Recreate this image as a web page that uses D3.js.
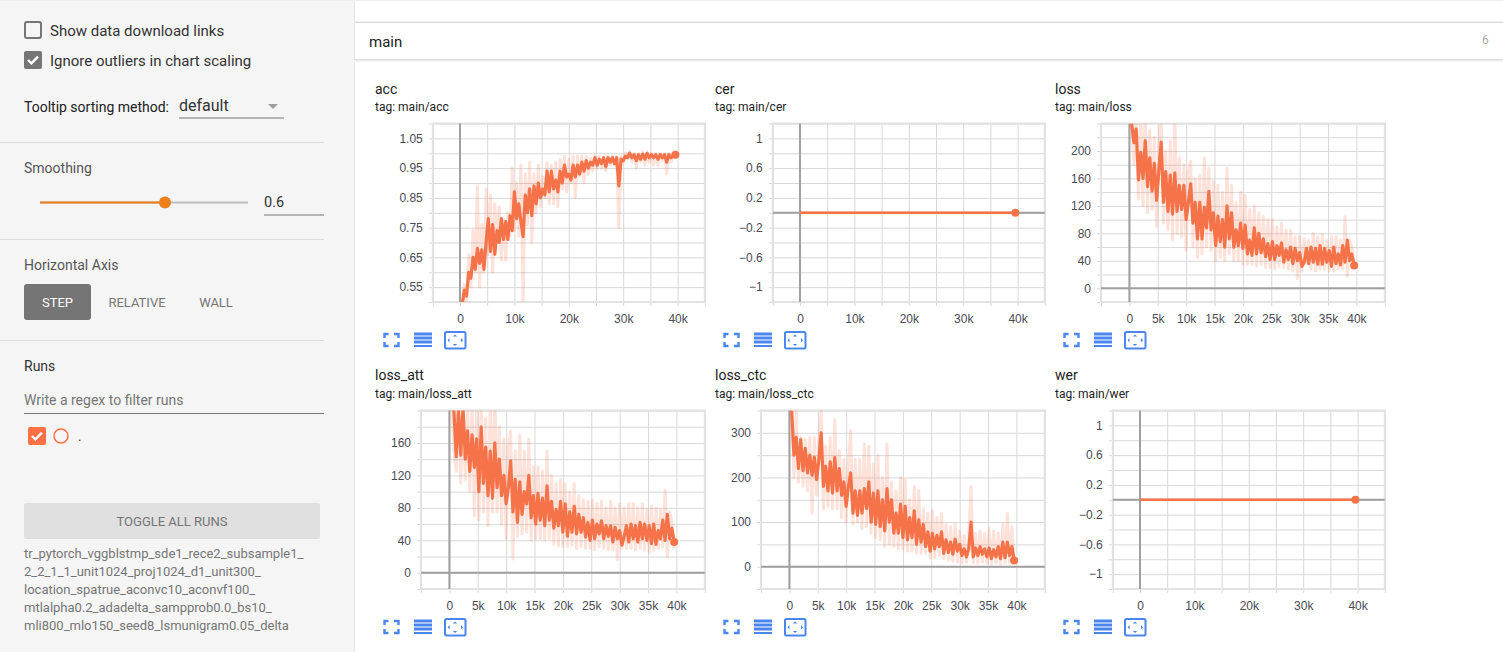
<!DOCTYPE html>
<html>
<head>
<meta charset="utf-8">
<script src="https://d3js.org/d3.v7.min.js"></script>
<style>
  html, body { margin: 0; padding: 0; background: #fff; overflow: hidden; }
  svg { display: block; font-family: Roboto, sans-serif; }
  .grid line { stroke: #d8d8d8; stroke-width: 1; }
  .grid .domain { display: none; }
  .axis text { font-family: "Liberation Sans", Arial, sans-serif; font-size: 12px; fill: #4a4a55; }
  .axis line { stroke: #d8d8d8; stroke-width: 1; }
  .axis .domain { display: none; }
</style>
</head>
<body>
<div id="board"></div>
<script>

// steps shared by the noisy scalars
var steps = [400,800,1200,1600,2000,2400,2800,3200,3600,4000,
  4400,4800,5200,5600,6000,6400,6800,7200,7600,8000,
  8400,8800,9200,9600,10000,10400,10800,11200,11600,12000,
  12400,12800,13200,13600,14000,14400,14800,15200,15600,16000,
  16400,16800,17200,17600,18000,18400,18800,19200,19600,20000,
  20400,20800,21200,21600,22000,22400,22800,23200,23600,24000,
  24400,24800,25200,25600,26000,26400,26800,27200,27600,28000,
  28400,28800,29200,29600,30000,30400,30800,31200,31600,32000,
  32400,32800,33200,33600,34000,34400,34800,35200,35600,36000,
  36400,36800,37200,37600,38000,38400,38800,39200,39600];

var accSmooth = [.49,.54,.52,.60,.58,.65,.61,.68,.63,.675,
  .61,.70,.78,.67,.76,.66,.74,.70,.78,.71,
  .77,.71,.79,.74,.87,.78,.83,.77,.72,.86,
  .80,.88,.79,.89,.83,.90,.85,.88,.86,.94,
  .87,.94,.88,.91,.87,.94,.90,.96,.92,.93,
  .91,.96,.92,.96,.93,.97,.94,.975,.95,.97,
  .96,.985,.96,.98,.965,.985,.955,.985,.97,.985,
  .965,.985,.89,.98,.975,.99,.985,1.0,.985,.995,
  .975,.995,.98,.997,.98,1.0,.985,.995,.985,.995,
  .98,.995,.985,.995,.97,.995,.985,.99,.995];
var accRaw = [.49,.56,.50,.66,.55,.74,.60,.89,.55,.76,
  .60,.88,.66,.86,.60,.83,.70,.82,.64,.78,
  .64,.80,.72,.95,.74,.90,.72,.96,.50,.93,
  .76,.97,.70,.93,.80,.96,.82,.92,.85,.97,
  .83,.96,.83,.97,.82,.98,.88,.99,.87,.98,
  .90,.99,.85,.99,.92,.99,.90,.99,.93,.985,
  .94,.99,.95,.99,.95,.985,.94,.99,.96,.99,
  .96,.99,.75,.99,.97,1.0,.98,1.005,.97,1.0,
  .95,1.0,.97,1.005,.96,1.0,.97,1.0,.96,1.0,
  .96,1.0,.975,1.0,.93,1.0,.97,.99,.995];

var lossSmooth = [240,212,232,158,198,160,215,148,190,142,
  182,128,172,213,125,170,112,165,108,168,
  112,150,115,150,100,125,152,95,125,72,
  125,72,118,88,141,85,110,62,105,68,
  100,60,120,72,110,60,85,62,95,58,
  92,50,70,48,88,50,80,52,72,46,
  65,42,68,42,62,48,66,38,56,42,
  60,36,58,40,52,32,38,58,36,60,
  38,58,35,62,35,58,38,55,32,60,
  36,50,34,62,38,70,40,50,33];
var lossRaw = [245,180,260,130,250,120,270,110,230,115,
  220,90,210,250,95,200,85,215,70,260,
  80,190,75,180,55,170,185,60,160,45,
  165,50,190,60,175,55,155,40,150,45,
  140,40,175,50,150,40,125,40,140,35,
  135,35,115,35,120,32,110,35,105,30,
  100,30,100,28,90,32,95,30,85,28,
  85,25,75,14,75,25,72,35,70,28,
  80,25,75,28,78,28,70,25,75,25,
  75,28,70,28,105,18,70,60,28];

var lossAttSmooth = [205,200,143,200,145,205,140,175,125,170,
  130,165,100,180,110,155,95,150,92,160,
  105,140,95,120,85,105,138,75,115,62,
  112,72,100,85,120,68,95,60,98,65,
  92,58,107,65,88,55,78,58,88,50,
  85,45,75,50,82,48,72,50,68,44,
  62,40,65,42,60,48,64,42,58,45,
  58,38,56,42,52,34,45,58,38,60,
  42,58,38,62,42,60,40,58,36,60,
  35,52,42,65,40,72,42,55,38];
var lossAttRaw = [210,150,125,215,110,215,115,205,100,215,
  70,205,65,215,75,190,58,210,75,230,
  75,180,60,165,42,155,175,17,150,45,
  170,48,150,50,165,40,130,42,130,42,
  125,40,150,42,120,35,110,33,115,32,
  110,32,100,34,110,30,95,32,90,30,
  88,30,90,28,85,32,88,30,80,28,
  88,28,80,16,85,30,80,30,85,30,
  85,28,80,30,85,28,78,25,82,28,
  80,30,78,32,102,20,75,62,30];

var lossCtcSmooth = [350,250,290,220,285,215,265,210,250,205,
  245,195,240,300,180,225,170,235,165,245,
  170,220,160,190,135,180,210,120,170,115,
  170,120,175,130,190,100,165,95,170,90,
  150,80,175,100,150,75,120,75,140,65,
  135,60,110,65,125,50,105,55,95,45,
  78,35,75,40,70,45,78,30,60,32,
  55,28,62,35,50,25,40,22,40,100,
  22,42,25,45,28,40,22,42,18,38,
  22,45,18,55,20,55,25,45,14];
var lossCtcRaw = [355,200,350,190,290,180,285,170,290,120,
  290,160,280,355,130,270,135,290,130,330,
  130,260,110,240,100,230,305,95,240,100,
  240,85,275,90,270,75,230,65,250,60,
  200,45,275,50,190,45,170,40,200,40,
  195,35,150,35,180,30,170,30,130,30,
  120,20,125,20,110,25,120,18,95,15,
  90,12,95,10,80,8,70,10,70,180,
  8,75,8,80,10,75,8,85,6,80,
  8,75,6,95,8,120,10,90,10];

// cer and wer stay flat at zero
var flatSteps = [0, 39600];
var cerValues = [0, 0];
var werValues = [0, 0];

// tick lists
var gridSteps = [-5000,0,5000,10000,15000,20000,25000,30000,35000,40000,45000];
var labelSteps10k = [0,10000,20000,30000,40000];
var labelSteps5k = [0,5000,10000,15000,20000,25000,30000,35000,40000];
var accGrid = [.5,.55,.6,.65,.7,.75,.8,.85,.9,.95,1,1.05,1.1];
var accLabels = [.55,.65,.75,.85,.95,1.05];
var flatGrid = [-1.2,-1,-.8,-.6,-.4,-.2,0,.2,.4,.6,.8,1,1.2];
var flatLabels = [-1,-.6,-.2,.2,.6,1];
var lossGrid = [-20,0,20,40,60,80,100,120,140,160,180,200,220,240];
var lossLabels = [0,40,80,120,160,200];
var lossAttGrid = [-20,0,20,40,60,80,100,120,140,160,180,200];
var lossAttLabels = [0,40,80,120,160];
var lossCtcGrid = [-50,0,50,100,150,200,250,300,350];
var lossCtcLabels = [0,100,200,300];

var runLines = ["tr_pytorch_vggblstmp_sde1_rece2_subsample1_",
  "2_2_1_1_unit1024_proj1024_d1_unit300_",
  "location_spatrue_aconvc10_aconvf100_",
  "mtlalpha0.2_adadelta_sampprob0.0_bs10_",
  "mli800_mlo150_seed8_lsmunigram0.05_delta"];

var orange = "#ff7043";
var lineColor = "#f6734a";
var blue = "#4a86ee";

var svg = d3.select("#board").append("svg")
  .attr("width", 1503)
  .attr("height", 652);

svg.append("rect").attr("width", 1503).attr("height", 652).attr("fill", "#fff");

// text helper
function label(sel, x, y, s, size, color, anchor) {
  return sel.append("text")
    .attr("x", x).attr("y", y)
    .attr("font-size", size)
    .attr("fill", color)
    .attr("text-anchor", anchor || "start")
    .text(s);
}
function hline(sel, x1, x2, y, color, w) {
  return sel.append("line")
    .attr("x1", x1).attr("x2", x2).attr("y1", y).attr("y2", y)
    .attr("stroke", color).attr("stroke-width", w || 1);
}

// ---- sidebar ----
var side = svg.append("g");
side.append("rect").attr("width", 354).attr("height", 652).attr("fill", "#f5f5f5");
side.append("rect").attr("x", 354).attr("width", 1).attr("height", 652).attr("fill", "#e4e4e4");
hline(side, 0, 1503, 0.5, "#eeeeee");

var checkPath = "M-5,0 L-1.6,3.4 L5,-3.4";

side.append("rect").attr("x", 25).attr("y", 22).attr("width", 16).attr("height", 16).attr("rx", 2)
  .attr("fill", "none").attr("stroke", "#757575").attr("stroke-width", 2);
label(side, 50, 36, "Show data download links", 15, "#333");

side.append("rect").attr("x", 24).attr("y", 51).attr("width", 18).attr("height", 18).attr("rx", 2)
  .attr("fill", "#757575");
side.append("path").attr("d", checkPath).attr("transform", "translate(33,60)")
  .attr("fill", "none").attr("stroke", "#fff").attr("stroke-width", 2.4);
label(side, 50, 66, "Ignore outliers in chart scaling", 15, "#333");

label(side, 24, 112, "Tooltip sorting method:", 14, "#212121");
label(side, 179, 111, "default", 16, "#333");
hline(side, 179, 284, 118, "#757575");
side.append("path").attr("d", "M268,104 L278,104 L273,109 Z").attr("fill", "#9e9e9e");

hline(side, 0, 324, 142.5, "#dcdcdc");
label(side, 24, 173, "Smoothing", 14, "#555");
hline(side, 40, 248, 202.5, "#bdbdbd", 2);
hline(side, 40, 165, 202.5, "#ef7f1a", 2);
side.append("circle").attr("cx", 165).attr("cy", 202.5).attr("r", 6).attr("fill", "#ef7f1a");
label(side, 264, 207, "0.6", 14.5, "#333");
hline(side, 264, 324, 215, "#757575");

hline(side, 0, 324, 239.5, "#dcdcdc");
label(side, 24, 270, "Horizontal Axis", 14, "#555");
side.append("rect").attr("x", 24).attr("y", 284).attr("width", 67).attr("height", 36).attr("rx", 3)
  .attr("fill", "#757575");
label(side, 57.5, 307, "STEP", 13, "#fff", "middle");
label(side, 137, 307, "RELATIVE", 13, "#757575", "middle");
label(side, 216, 307, "WALL", 13, "#757575", "middle");

hline(side, 0, 324, 340.5, "#dcdcdc");
label(side, 24, 371, "Runs", 14, "#333");
label(side, 24, 405, "Write a regex to filter runs", 14, "#757575");
hline(side, 24, 324, 413.5, "#757575");

side.append("rect").attr("x", 28).attr("y", 427).attr("width", 18).attr("height", 18).attr("rx", 2)
  .attr("fill", orange);
side.append("path").attr("d", checkPath).attr("transform", "translate(37,436)")
  .attr("fill", "none").attr("stroke", "#fff").attr("stroke-width", 2.4);
side.append("circle").attr("cx", 61).attr("cy", 436).attr("r", 7)
  .attr("fill", "none").attr("stroke", orange).attr("stroke-width", 1.5);
label(side, 78, 441, ".", 13, "#333");

side.append("rect").attr("x", 24).attr("y", 503).attr("width", 296).attr("height", 36).attr("rx", 2)
  .attr("fill", "#e0e0e0");
label(side, 172, 526, "TOGGLE ALL RUNS", 13, "#757575", "middle");

side.selectAll(".runline")
  .data(runLines)
  .enter()
  .append("text")
    .attr("class", "runline")
    .attr("x", 24)
    .attr("y", function(d, i) { return 558 + i * 18; })
    .attr("font-size", 13)
    .attr("fill", "#757575")
    .text(function(d) { return d; });

// ---- category header ----
hline(svg, 355, 1503, 21.5, "#f0f0f0", 1);
hline(svg, 355, 1503, 22.5, "#dadada", 1);
hline(svg, 354, 1503, 59.5, "#e0e0e0", 1);
hline(svg, 354, 1503, 60.5, "#ebebeb", 1);
hline(svg, 354, 1503, 61.5, "#f5f5f5", 1);
label(svg, 369, 47, "main", 15, "#212121");
label(svg, 1482, 44, "6", 12, "#aaaaaa");

// ---- one scalar card ----
function scalarCard(c, index) {
  var g = svg.append("g");
  var top = c.row === 0 ? 123.5 : 410.5;
  var bottom = top + 178.5;
  var x0 = c.col * 340;

  label(g, 375 + x0, c.row === 0 ? 93.5 : 380, c.title, 14, "#212121");
  label(g, 375 + x0, top - 12.5, "tag: main/" + c.title, 12, "#212121");

  var x = d3.scaleLinear().domain([-5000, 45000]).range([c.left, 704.8 + x0]);
  var y = d3.scaleLinear().domain(c.yDomain).range([bottom, top]);
  var w = 704.8 + x0 - c.left;
  var h = bottom - top;

  // gridlines
  g.append("g").attr("class", "grid")
    .attr("transform", "translate(" + c.left + ",0)")
    .call(d3.axisLeft(y).tickValues(c.yGrid).tickSize(-w).tickFormat(""));
  g.append("g").attr("class", "grid")
    .attr("transform", "translate(0," + top + ")")
    .call(d3.axisBottom(x).tickValues(gridSteps).tickSize(h).tickFormat(""));

  // outer ticks and labels
  g.append("g").attr("class", "axis")
    .attr("transform", "translate(" + c.left + ",0)")
    .call(d3.axisLeft(y).tickValues(c.yGrid).tickSize(4).tickPadding(6)
      .tickFormat(function(d) { return c.yLabels.indexOf(d) >= 0 ? d3.format("~g")(d) : ""; }));
  g.append("g").attr("class", "axis")
    .attr("transform", "translate(0," + bottom + ")")
    .call(d3.axisBottom(x).tickValues(gridSteps).tickSize(4).tickPadding(8)
      .tickFormat(function(d) {
        if (c.xLabels.indexOf(d) < 0) return "";
        return d === 0 ? "0" : (d / 1000) + "k";
      }));

  // frame of the plot
  g.append("rect")
    .attr("x", c.left).attr("y", top)
    .attr("width", w).attr("height", h)
    .attr("fill", "none").attr("stroke", "#e2e2e2").attr("stroke-width", 2);

  // zero lines
  g.append("line")
    .attr("x1", x(0)).attr("x2", x(0)).attr("y1", top).attr("y2", bottom)
    .attr("stroke", "#a0a0a0").attr("stroke-width", 2);
  if (c.yDomain[0] < 0) {
    hline(g, c.left, c.left + w, y(0), "#a0a0a0", 2);
  }

  // series
  var clipId = "clip" + index;
  g.append("clipPath").attr("id", clipId)
    .append("rect").attr("x", c.left).attr("y", top).attr("width", w).attr("height", h);
  var plot = g.append("g").attr("clip-path", "url(#" + clipId + ")");

  var line = d3.line()
    .x(function(d, i) { return x(c.steps[i]); })
    .y(function(d) { return y(d); });

  if (c.raw) {
    plot.append("path")
      .datum(c.raw)
      .attr("d", line)
      .attr("fill", "none")
      .attr("stroke", orange)
      .attr("stroke-opacity", 0.2)
      .attr("stroke-width", 3)
      .attr("stroke-linejoin", "round");
  }
  plot.append("path")
    .datum(c.smooth)
    .attr("d", line)
    .attr("fill", "none")
    .attr("stroke", lineColor)
    .attr("stroke-width", c.raw ? 3.2 : 2.4)
    .attr("stroke-linejoin", "round");

  var n = c.smooth.length - 1;
  plot.append("circle")
    .attr("cx", x(c.steps[n]))
    .attr("cy", y(c.smooth[n]))
    .attr("r", 4)
    .attr("fill", lineColor);

  // the three icons under the plot
  var ic = g.append("g").attr("transform", "translate(" + x0 + "," + (c.row * 287) + ")");
  ic.append("path")
    .attr("d", "M384.5,338 V334 H388.5 M394,334 H398.5 V338 M398.5,342 V346 H394 M388.5,346 H384.5 V342")
    .attr("fill", "none").attr("stroke", blue).attr("stroke-width", 2.4);
  ic.selectAll(".bar")
    .data([332.5, 336.5, 340.5])
    .enter().append("rect")
      .attr("class", "bar")
      .attr("x", 414).attr("y", function(d) { return d; })
      .attr("width", 18).attr("height", 3)
      .attr("fill", blue);
  ic.append("rect").attr("x", 414).attr("y", 345).attr("width", 18).attr("height", 2).attr("fill", blue);
  ic.append("rect")
    .attr("x", 445).attr("y", 332).attr("width", 20.5).attr("height", 16.5).attr("rx", 1.5)
    .attr("fill", "none").attr("stroke", blue).attr("stroke-width", 2);
  ic.append("path")
    .attr("d", "M455,334.5 l2.2,2 h-4.4 Z M455,346 l2.2,-2 h-4.4 Z M447.5,340.2 l2,-2.2 v4.4 Z M463,340.2 l-2,-2.2 v4.4 Z")
    .attr("fill", blue);
}

var cards = [
  {title: "acc", row: 0, col: 0, left: 432.8, yDomain: [.5, 1.1], yGrid: accGrid, yLabels: accLabels,
    xLabels: labelSteps10k, steps: steps, raw: accRaw, smooth: accSmooth},
  {title: "cer", row: 0, col: 1, left: 772.8, yDomain: [-1.2, 1.2], yGrid: flatGrid, yLabels: flatLabels,
    xLabels: labelSteps10k, steps: flatSteps, smooth: cerValues},
  {title: "loss", row: 0, col: 2, left: 1101, yDomain: [-20, 240], yGrid: lossGrid, yLabels: lossLabels,
    xLabels: labelSteps5k, steps: steps, raw: lossRaw, smooth: lossSmooth},
  {title: "loss_att", row: 1, col: 0, left: 421, yDomain: [-20, 200], yGrid: lossAttGrid, yLabels: lossAttLabels,
    xLabels: labelSteps5k, steps: steps, raw: lossAttRaw, smooth: lossAttSmooth},
  {title: "loss_ctc", row: 1, col: 1, left: 761, yDomain: [-50, 350], yGrid: lossCtcGrid, yLabels: lossCtcLabels,
    xLabels: labelSteps5k, steps: steps, raw: lossCtcRaw, smooth: lossCtcSmooth},
  {title: "wer", row: 1, col: 2, left: 1112.8, yDomain: [-1.2, 1.2], yGrid: flatGrid, yLabels: flatLabels,
    xLabels: labelSteps10k, steps: flatSteps, smooth: werValues}
];

cards.forEach(scalarCard);

</script>
</body>
</html>
